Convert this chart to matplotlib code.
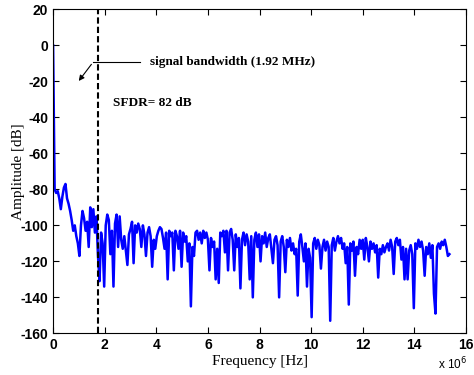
import numpy as np
import matplotlib
matplotlib.use("Agg")
import matplotlib.pyplot as plt

# Spectrum (dB), one value per 60 kHz bin
freq_step = 0.06e6
amp_db = [
    0, -80, -82, -81, -85, -91, -84, -79, -77, -85,
    -88, -92, -97, -103, -100, -106, -110, -117, -100, -92,
    -96, -103, -98, -112, -90, -101, -91, -104, -95, -117,
    -131, -104, -110, -134, -100, -94, -97, -116, -103, -134,
    -99, -94, -112, -95, -108, -113, -106, -114, -122, -105,
    -102, -98, -121, -100, -104, -99, -102, -112, -100, -105,
    -117, -104, -101, -106, -123, -108, -113, -106, -103, -101,
    -102, -107, -113, -104, -130, -103, -106, -104, -125, -103,
    -106, -113, -103, -123, -104, -109, -106, -120, -110, -145,
    -112, -117, -104, -103, -108, -104, -110, -103, -107, -104,
    -108, -125, -107, -112, -109, -130, -113, -132, -104, -106,
    -103, -115, -103, -125, -104, -102, -108, -125, -105, -112,
    -107, -135, -108, -104, -111, -105, -109, -130, -106, -140,
    -108, -104, -112, -105, -120, -106, -110, -104, -112, -107,
    -105, -113, -121, -108, -106, -111, -140, -109, -106, -112,
    -126, -108, -112, -107, -114, -110, -116, -113, -139, -109,
    -105, -112, -120, -110, -134, -113, -118, -151, -110, -107,
    -113, -108, -111, -124, -112, -108, -114, -109, -112, -153,
    -111, -107, -114, -109, -106, -110, -107, -113, -110, -121,
    -112, -144, -110, -114, -109, -128, -112, -116, -108, -113,
    -108, -119, -107, -112, -120, -109, -113, -110, -115, -111,
    -129, -113, -116, -111, -115, -112, -110, -114, -108, -112,
    -127, -109, -107, -111, -108, -119, -112, -130, -113, -130,
    -114, -111, -116, -146, -110, -113, -108, -112, -109, -114,
    -128, -112, -116, -110, -118, -111, -138, -149, -112, -110,
    -113, -109, -111, -108, -112, -117, -116,
]
bandwidth_edge = 1.74e6
x_ticks = [0, 2, 4, 6, 8, 10, 12, 14, 16]
y_ticks = [20, 0, -20, -40, -60, -80, -100, -120, -140, -160]

freqs = np.arange(len(amp_db)) * freq_step

fig = plt.figure(figsize=(4.74, 3.75), dpi=100)
ax = fig.add_axes([0.112, 0.111, 0.871, 0.864])

ax.plot(freqs, amp_db, color="#0000ff", linewidth=1.8)
ax.axvline(bandwidth_edge, color="black", linestyle=(0, (3, 1.5)), linewidth=1.5)

ax.set_xlim(0, 16e6)
ax.set_ylim(-160, 20)
ax.set_xticks([t * 1e6 for t in x_ticks])
ax.set_xticklabels([str(t) for t in x_ticks])
ax.set_yticks(y_ticks)
ax.set_yticklabels([str(t) for t in y_ticks])
ax.tick_params(direction="in", top=True, right=True, length=4, width=0.8)
for lab in ax.get_xticklabels() + ax.get_yticklabels():
    lab.set_family("Liberation Sans")
    lab.set_fontweight("bold")
    lab.set_fontsize(10)

ax.set_xlabel("Frequency [Hz]", family="Liberation Serif", fontsize=11, labelpad=2)
ax.set_ylabel("Amplitude [dB]", family="Liberation Serif", fontsize=11)
ax.yaxis.set_label_coords(-0.068, 0.5)
fig.text(0.925, 0.015, r"x 10$^6$", family="Liberation Sans", fontsize=8.5)

# annotations
ax.plot([1.55e6, 3.36e6], [-9.3, -9.3], color="black", linewidth=0.8)
ax.annotate("", xy=(0.93e6, -21), xytext=(1.55e6, -9.3),
            arrowprops=dict(arrowstyle="-|>", color="black", lw=0.8,
                            mutation_scale=8))
ax.text(3.75e6, -9.3, "signal bandwidth (1.92 MHz)", family="Liberation Serif",
        fontweight="bold", fontsize=9.5, va="center")
ax.text(2.32e6, -32, "SFDR= 82 dB", family="Liberation Serif",
        fontweight="bold", fontsize=9.5, va="center")

plt.savefig("out.png", dpi=100)
